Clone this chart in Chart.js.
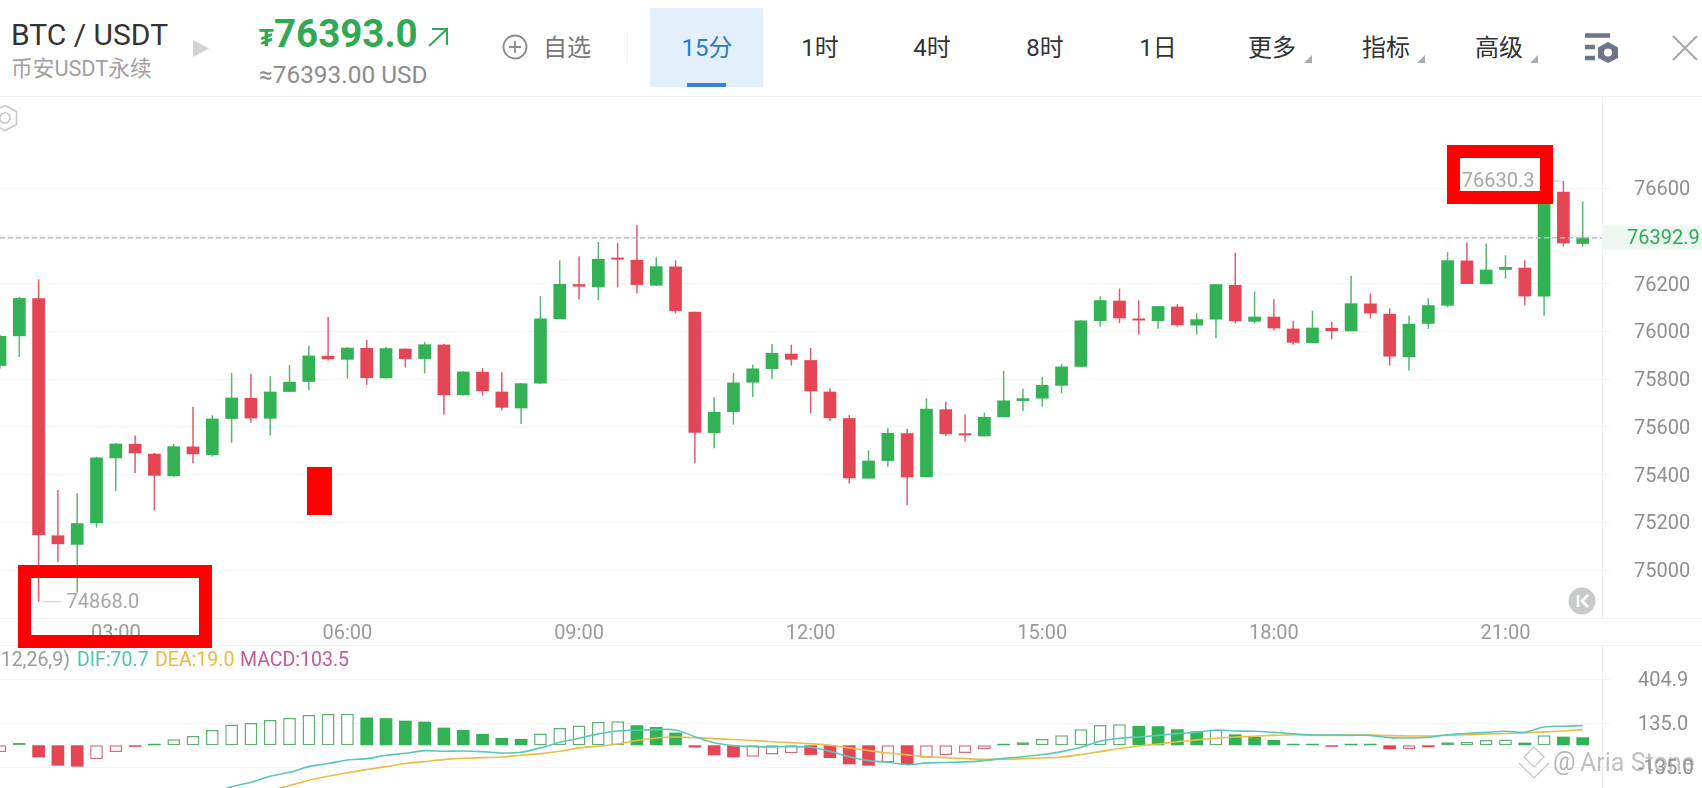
<!DOCTYPE html>
<html>
<head>
<meta charset="utf-8">
<title>BTC / USDT</title>
<script src="https://cdn.jsdelivr.net/npm/chart.js@4/dist/chart.umd.min.js"></script>
<style>
  html, body { margin: 0; padding: 0; background: #fff; }
  #page { position: relative; width: 1702px; height: 788px; overflow: hidden; background: #fff; font-family: Roboto, "Noto Sans CJK SC", sans-serif; }
  #page canvas { position: absolute; left: 0; }
  .t { position: absolute; white-space: nowrap; line-height: 1; }
  .tab { position: absolute; white-space: nowrap; line-height: 1; transform: translateX(-50%); top: 36px; font-size: 24px; color: #333; font-family: Roboto, "Noto Sans CJK SC", sans-serif; }
  .line { position: absolute; background: #f1f2f3; }
  .frame { position: absolute; box-sizing: border-box; border: 13px solid #ff0000; }
  .corner { position: absolute; width: 0; height: 0; border-left: 8px solid transparent; border-bottom: 8px solid #a9adb2; }
  svg { position: absolute; }
</style>
</head>
<body>
<div id="page">
  <div class="t" style="left:11px;top:20px;font-size:30px;color:#333">BTC / USDT</div>
  <div class="t" style="left:11px;top:58px;font-size:21.7px;color:#a0a0a0">币安USDT永续</div>
  <svg style="left:193px;top:40px" width="16" height="17"><path d="M0 0 L16 8.5 L0 17 Z" fill="#d2d2d2"/></svg>
  <div class="t" style="left:259px;top:26px;font-size:24px;font-weight:700;color:#2fa956">₮</div>
  <div class="t" style="left:274px;top:15px;font-size:38.5px;font-weight:700;color:#2fa956">76393.0</div>
  <svg style="left:427px;top:27px" width="22" height="21"><path d="M2 19 L19 3 M5 2 L20 2 L20 18" fill="none" stroke="#2fa956" stroke-width="2"/></svg>
  <div class="t" style="left:259px;top:63px;font-size:24.4px;color:#8c8c8c">≈76393.00 USD</div>
  <svg style="left:502px;top:34px" width="26" height="26"><circle cx="13" cy="13" r="11.5" fill="none" stroke="#8a8a8a" stroke-width="1.8"/><path d="M7 13 H19 M13 7 V19" stroke="#8a8a8a" stroke-width="1.8"/></svg>
  <div class="t" style="left:543px;top:36px;font-size:24px;color:#777">自选</div>
  <div class="line" style="left:627px;top:32px;width:1px;height:31px"></div>
  <div class="line" style="left:650px;top:8px;width:113px;height:79px;background:#e3effb"></div>
  <div class="line" style="left:687px;top:83px;width:39px;height:4px;background:#3d7fd9"></div>
  <div class="tab" style="left:707px;color:#2a7ac6">15分</div>
  <div class="tab" style="left:820px">1时</div>
  <div class="tab" style="left:932px">4时</div>
  <div class="tab" style="left:1045px">8时</div>
  <div class="tab" style="left:1158px">1日</div>
  <div class="tab" style="left:1272px">更多</div>
  <div class="corner" style="left:1304px;top:55px"></div>
  <div class="tab" style="left:1386px">指标</div>
  <div class="corner" style="left:1417px;top:55px"></div>
  <div class="tab" style="left:1499px">高级</div>
  <div class="corner" style="left:1530px;top:55px"></div>
  <svg style="left:1585px;top:33px" width="34" height="30">
    <path d="M0 2.5 H25 M0 14 H10 M0 25 H10" stroke="#6b7785" stroke-width="4.5"/>
    <path d="M23 9 L33 14.5 V25 L23 30 L13 25 V14.5 Z" fill="#6b7785"/><circle cx="23" cy="19.5" r="4" fill="#fff"/>
  </svg>
  <svg style="left:1671px;top:34px" width="28" height="28"><path d="M2 2 L26 26 M26 2 L2 26" stroke="#a8a8a8" stroke-width="2"/></svg>
  <div class="line" style="left:0;top:96px;width:1702px;height:1px"></div>

  <canvas id="priceChart" width="1702" height="548" style="top:97px"></canvas>
  <canvas id="macdChart" width="1702" height="143" style="top:645px"></canvas>
  <div class="line" style="left:0;top:618px;width:1702px;height:1px"></div>
  <div class="line" style="left:0;top:645px;width:1702px;height:1px"></div>

  <svg style="left:0;top:104px" width="20" height="28"><path d="M5 1.5 L16.5 7.5 V20.5 L5 26.5 L-6.5 20.5 V7.5 Z" fill="none" stroke="#c8c8c8" stroke-width="1.6"/><circle cx="5" cy="14" r="5.2" fill="none" stroke="#c8c8c8" stroke-width="1.6"/></svg>
  <svg style="left:1568px;top:587px" width="28" height="28"><circle cx="14" cy="14" r="13.5" fill="#c9cbcb"/><path d="M10 8 V20 M20 8 L14 14 L20 20" fill="none" stroke="#fff" stroke-width="2.6"/></svg>

  <div class="t" style="left:-6px;top:650px;font-size:19.5px;color:#9a9a9a">(12,26,9)</div>
  <div class="t" style="left:77px;top:650px;font-size:19.5px;color:#50c4b2">DIF:70.7</div>
  <div class="t" style="left:155px;top:650px;font-size:19.5px;color:#e8b93a">DEA:19.0</div>
  <div class="t" style="left:240px;top:650px;font-size:19.5px;color:#c9579a">MACD:103.5</div>

  <div class="frame" style="left:18px;top:565px;width:194px;height:83px"></div>
  <div class="frame" style="left:1447px;top:145px;width:106px;height:59px"></div>
  <div class="line" style="left:307px;top:467px;width:25px;height:48px;background:#ff0000"></div>

  <svg style="left:1518px;top:746px" width="32" height="34">
    <g fill="none" stroke="#fff" stroke-width="4"><path d="M16 3 L24 11 L16 19 L8 11 Z"/><path d="M4 17 L16 29 L28 17"/></g>
    <g fill="none" stroke="#c4c4c4" stroke-width="1.2"><path d="M16 1 L26 11 L16 21 L6 11 Z"/><path d="M1 17 L16 32 L31 17"/></g>
  </svg>
  <div class="t" style="left:1553px;top:749px;font-size:25px;color:rgba(150,150,150,.7)">@</div>
  <div class="t" style="left:1580px;top:750px;font-size:25px;color:rgba(150,150,150,.6)">Aria Stone</div>
</div>

<script>
const times = [
  "01:30","01:45","02:00","02:15","02:30","02:45","03:00","03:15","03:30","03:45","04:00","04:15",
  "04:30","04:45","05:00","05:15","05:30","05:45","06:00","06:15","06:30","06:45","07:00","07:15",
  "07:30","07:45","08:00","08:15","08:30","08:45","09:00","09:15","09:30","09:45","10:00","10:15",
  "10:30","10:45","11:00","11:15","11:30","11:45","12:00","12:15","12:30","12:45","13:00","13:15",
  "13:30","13:45","14:00","14:15","14:30","14:45","15:00","15:15","15:30","15:45","16:00","16:15",
  "16:30","16:45","17:00","17:15","17:30","17:45","18:00","18:15","18:30","18:45","19:00","19:15",
  "19:30","19:45","20:00","20:15","20:30","20:45","21:00","21:15","21:30","21:45","22:00","22:15"
];
const timeTicks = ["03:00","06:00","09:00","12:00","15:00","18:00","21:00"];

const openPrices = [
  75856,75980,76139,75146,75107,75197,75469,75529,75488,75394,
  75518,75483,75634,75722,75635,75747,75789,75898,75882,75931,
  75804,75928,75885,75945,75733,75831,75748,75678,75782,76052,
  76198,76185,76305,76300,76192,76272,76083,75575,75663,75786,
  75843,75907,75880,75748,75637,75384,75458,75574,75389,75674,
  75570,75561,75641,75709,75719,75773,75852,76044,76129,76054,
  76044,76104,76025,76050,76195,76041,76062,76012,75951,76015,
  76001,76117,76074,75892,76032,76108,76297,76198,76258,76267,
  76146,76585,76367
];
const closePrices = [
  75981,76140,75148,75109,75197,75472,75530,75490,75396,75519,
  75486,75635,75723,75636,75748,75789,75899,75884,75932,75805,
  75930,75885,75946,75734,75832,75750,75681,75783,76054,76199,
  76188,76304,76301,76195,76273,76086,75576,75663,75786,75845,
  75910,75882,75750,75637,75385,75459,75575,75389,75676,75570,
  75565,75642,75711,75720,75776,75853,76046,76131,76055,76046,
  76106,76026,76051,76198,76043,76062,76013,75953,76016,76002,
  76118,76076,75895,76032,76110,76298,76199,76259,76270,76147,
  76585,76369,76392.9
];
const highPrices = [
  75984,76145,76219,75336,75322,75475,75533,75564,75491,75529,
  75685,75649,75826,75823,75812,75860,75940,76061,75934,75965,
  75935,75929,75956,75948,75833,75847,75829,75784,76149,76298,
  76314,76375,76371,76445,76311,76298,76083,75724,75826,75861,
  75948,75945,75931,75762,75650,75502,75597,75593,75720,75706,
  75652,75660,75835,75759,75810,75864,76047,76148,76180,76131,
  76107,76115,76076,76199,76330,76167,76135,76044,76087,76041,
  76233,76159,76097,76067,76139,76332,76374,76368,76319,76298,
  76590,76630.3,76545
];
const lowPrices = [
  75845,75893,74868,75033,74906,75179,75332,75406,75251,75392,
  75448,75476,75534,75618,75564,75745,75754,75877,75803,75776,
  75803,75849,75824,75652,75732,75731,75670,75613,75781,76052,
  76135,76131,76185,76159,76191,76076,75449,75511,75610,75726,
  75800,75857,75657,75625,75363,75384,75434,75272,75389,75561,
  75539,75561,75641,75667,75685,75741,75851,76020,76036,75987,
  76011,76020,75987,75972,76034,76034,76004,75944,75951,75967,
  76001,76055,75857,75837,76011,76101,76199,76198,76221,76110,
  76066,76356,76356
];
const priceTicks = [75000,75200,75400,75600,75800,76000,76200,76400,76600];
const lastPrice = 76392.9;

const macdBars = [
  -41,14,-74,-125,-131,-86,-41,-8,4,37,
  57,94,127,137,155,168,186,192,194,170,
  166,151,145,108,94,70,45,39,72,106,
  121,143,147,123,112,78,-14,-61,-74,-70,
  -57,-49,-59,-78,-117,-125,-106,-119,-76,-59,
  -47,-25,4,18,39,61,98,125,129,119,
  117,98,86,94,67,51,33,8,4,-6,
  4,4,-25,-25,-12,18,22,33,35,16,
  61,53,49
];
const hollowBars = [0,1,5,6,9,10,11,12,13,14,15,16,17,18,28,29,30,31,32,39,40,41,46,48,49,50,51,53,54,55,56,57,58,63,73,75,76,77,78,80];
const difLine = [
  null,null,null,null,null,null,null,null,null,null,
  null,-290,-254,-227,-190,-166,-131,-112,-90,-82,
  -61,-49,-33,-37,-35,-39,-47,-43,-16,18,
  43,70,88,92,96,94,53,16,-2,-8,
  -10,-8,-12,-37,-70,-94,-104,-119,-108,-106,
  -102,-94,-80,-70,-57,-39,-12,25,43,51,
  61,72,80,94,88,86,80,70,63,63,
  61,61,47,45,49,65,72,80,86,80,
  112,117,121
];
const deaLine = [
  null,null,null,null,null,null,null,null,null,null,
  null,null,null,null,-278,-247,-215,-190,-168,-149,
  -131,-112,-100,-88,-80,-76,-72,-61,-51,-37,
  -16,-6,8,29,45,51,47,41,35,29,
  22,16,10,0,-16,-33,-47,-59,-70,-76,
  -82,-86,-86,-82,-78,-72,-57,-39,-20,-4,
  8,22,33,43,51,55,61,65,63,61,
  63,63,59,57,57,61,65,70,72,76,
  82,88,96
];
const macdTicks = [404.9,135,-135];

const UP = "#33b155";
const DOWN = "#e54656";
const GRID = "#f2f5f8";
const TICK_TEXT = "#8f8f8f";

Chart.defaults.font.family = "Roboto, sans-serif";
Chart.defaults.font.size = 20;
Chart.defaults.animation = false;

const candleColor = (i) => closePrices[i] >= openPrices[i] ? UP : DOWN;
const wickColors = times.map((t, i) => candleColor(i) === UP ? "#58b873" : "#df5d6c");
const bodyColors = times.map((t, i) => candleColor(i));

// tick padding also pushes the chart area in, so zero it and keep the set axis size
function fitAxis(scale, width, height) {
  if (width) scale.width = width;
  if (height) scale.height = height;
  scale.paddingTop = scale.paddingBottom = scale.paddingLeft = scale.paddingRight = 0;
}

// hi/lo markers and the last price box are text on top of the candles
const priceLabels = {
  id: "priceLabels",
  afterDatasetsDraw(chart) {
    const { ctx, scales: { x, y } } = chart;
    const lowIdx = lowPrices.indexOf(Math.min(...lowPrices));
    const highIdx = highPrices.indexOf(Math.max(...highPrices));
    ctx.save();
    ctx.font = "20px Roboto, sans-serif";
    ctx.textBaseline = "middle";
    ctx.strokeStyle = "#c8c8c8";
    ctx.lineWidth = 1;
    ctx.fillStyle = "#a6a6a6";

    const loX = x.getPixelForValue(lowIdx), loY = y.getPixelForValue(lowPrices[lowIdx]);
    ctx.beginPath(); ctx.moveTo(loX + 4, loY); ctx.lineTo(loX + 23, loY); ctx.stroke();
    ctx.textAlign = "left";
    ctx.fillText(lowPrices[lowIdx].toFixed(1), loX + 28, loY + 1);

    const hiX = x.getPixelForValue(highIdx), hiY = y.getPixelForValue(highPrices[highIdx]);
    ctx.beginPath(); ctx.moveTo(hiX - 22, hiY); ctx.lineTo(hiX - 2, hiY); ctx.stroke();
    ctx.textAlign = "right";
    ctx.fillText(highPrices[highIdx].toFixed(1), hiX - 29, hiY + 1);

    const lastY = y.getPixelForValue(lastPrice);
    ctx.fillStyle = "#eef6f1";
    ctx.fillRect(chart.chartArea.right, lastY - 12, 100, 24);
    ctx.fillStyle = "#2fa956";
    ctx.textAlign = "left";
    ctx.fillText(lastPrice.toFixed(1), chart.chartArea.right + 25, lastY + 1);
    ctx.restore();
  },
};

new Chart(document.getElementById("priceChart"), {
  data: {
    labels: times,
    datasets: [
      {
        type: "line",
        data: times.map(() => lastPrice),
        borderColor: "#bdbdbd",
        borderWidth: 1.5,
        borderDash: [5, 3],
        pointRadius: 0,
        order: 0,
      },
      {
        type: "bar",
        data: openPrices.map((o, i) => [o, closePrices[i]]),
        backgroundColor: bodyColors,
        barThickness: 12.7,
        minBarLength: 2,
        grouped: false,
        order: 1,
      },
      {
        type: "bar",
        data: lowPrices.map((l, i) => [l, highPrices[i]]),
        backgroundColor: wickColors,
        barThickness: 1.5,
        grouped: false,
        order: 2,
      },
    ],
  },
  options: {
    responsive: false,
    layout: { autoPadding: false, padding: 0 },
    elements: { bar: { inflateAmount: 0, borderSkipped: false } },
    plugins: { legend: { display: false }, tooltip: { enabled: false } },
    scales: {
      x: {
        offset: false,
        grid: { display: false, drawTicks: false },
        border: { display: false },
        afterFit(scale) { fitAxis(scale, 0, 27); },
        ticks: {
          autoSkip: false,
          maxRotation: 0,
          color: "#9a9a9a",
          padding: 4,
          callback(value) {
            const label = times[value];
            return timeTicks.includes(label) ? label : "";
          },
        },
      },
      y: {
        position: "right",
        min: 74800,
        max: 76982,
        afterFit(scale) { fitAxis(scale, 100, 0); },
        afterBuildTicks(scale) { scale.ticks = priceTicks.map((value) => ({ value })); },
        grid: { color: GRID, tickLength: 8, tickColor: GRID },
        border: { color: "#eeeeee" },
        ticks: {
          color: TICK_TEXT,
          padding: 24,
          labelOffset: 2,
          callback(value) { return value === 76400 ? "" : String(value); },
        },
      },
    },
  },
  plugins: [priceLabels],
});

const isHollow = (i) => hollowBars.includes(i);
const macdBase = (v) => v >= 0 ? UP : DOWN;
const macdEdge = (v) => v >= 0 ? "#5fae74" : "#d56c7c";

new Chart(document.getElementById("macdChart"), {
  data: {
    labels: times,
    datasets: [
      {
        type: "line",
        data: difLine,
        borderColor: "#58c9b9",
        borderWidth: 1.6,
        tension: 0.3,
        pointRadius: 0,
        order: 0,
      },
      {
        type: "line",
        data: deaLine,
        borderColor: "#ebbd42",
        borderWidth: 1.6,
        tension: 0.3,
        pointRadius: 0,
        order: 1,
      },
      {
        type: "bar",
        data: macdBars,
        backgroundColor: macdBars.map((v, i) => isHollow(i) ? "#ffffff" : macdBase(v)),
        borderColor: macdBars.map((v, i) => isHollow(i) ? macdEdge(v) : macdBase(v)),
        borderWidth: macdBars.map((v, i) => isHollow(i) ? 1.5 : 0),
        barThickness: 12.7,
        minBarLength: 1.5,
        order: 2,
      },
    ],
  },
  options: {
    responsive: false,
    layout: { autoPadding: false, padding: 0 },
    elements: { bar: { inflateAmount: 0, borderSkipped: false } },
    plugins: { legend: { display: false }, tooltip: { enabled: false } },
    scales: {
      x: { display: false, offset: false },
      y: {
        position: "right",
        min: -262,
        max: 615,
        afterFit(scale) { fitAxis(scale, 100, 0); },
        afterBuildTicks(scale) { scale.ticks = macdTicks.map((value) => ({ value })); },
        grid: { color: GRID, tickLength: 8, tickColor: GRID },
        border: { color: "#eeeeee" },
        ticks: {
          color: TICK_TEXT,
          padding: 28,
          labelOffset: 2,
          callback(value) { return value.toFixed(1); },
        },
      },
    },
  },
});
</script>
</body>
</html>
